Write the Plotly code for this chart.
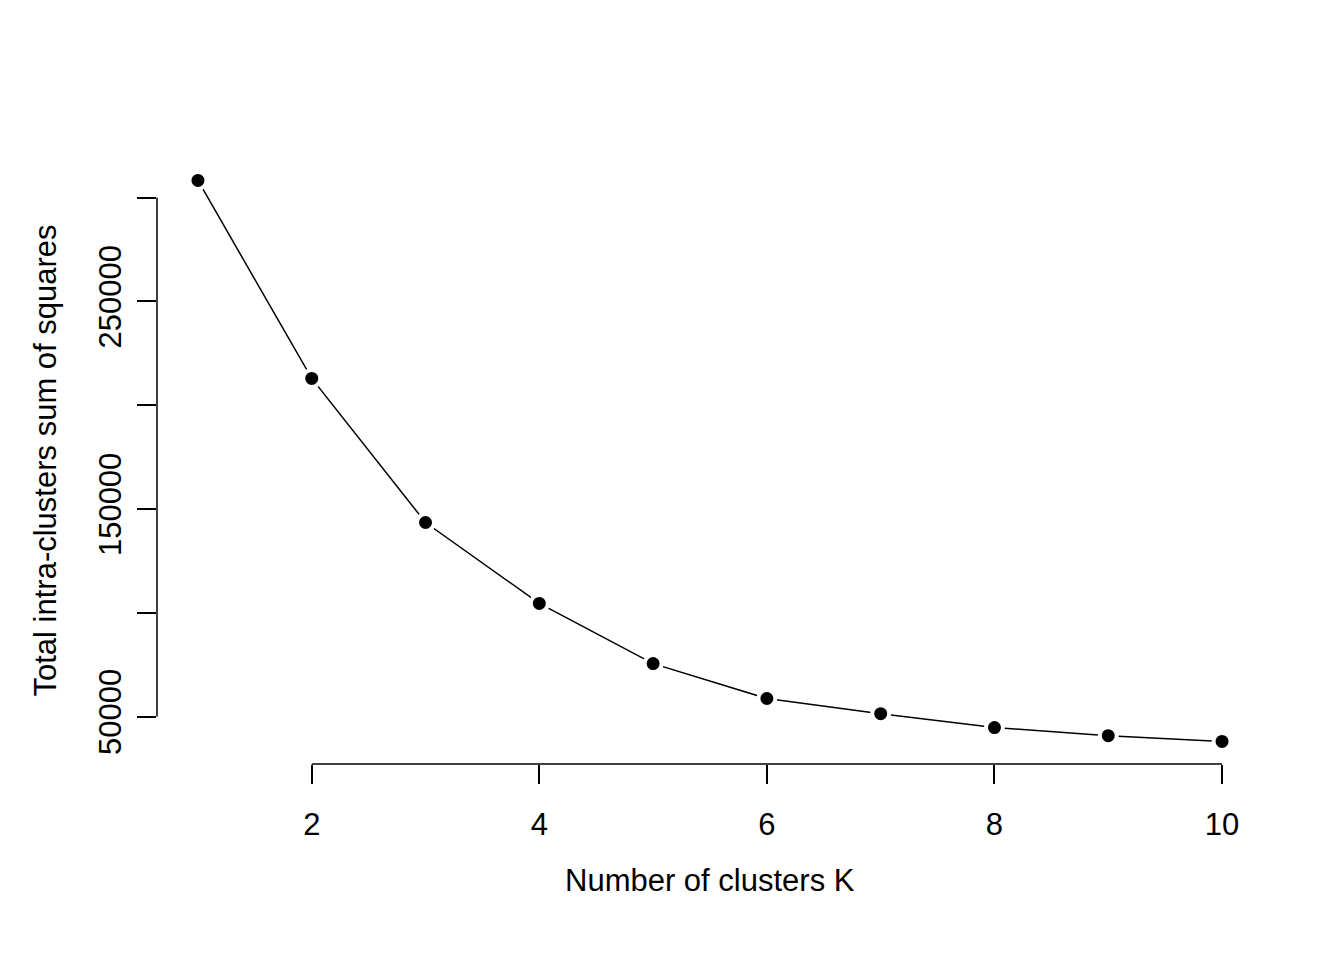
import plotly.graph_objects as go

k = [1, 2, 3, 4, 5, 6, 7, 8, 9, 10]
wss = [308300, 212900, 143500, 104500, 75500, 58700, 51400, 44700, 40800, 38000]
ytick_vals = [50000, 100000, 150000, 200000, 250000, 300000]
ytick_text = ["50000", "", "150000", "", "250000", ""]
xtick_vals = [2, 4, 6, 8, 10]

font = dict(family="Liberation Sans, Arial", size=31, color="black")
fig = go.Figure(go.Scatter(
    x=k, y=wss, mode="lines+markers",
    line=dict(color="black", width=1.5),
    marker=dict(size=17, color="black", line=dict(color="white", width=4)),
))
fig.update_layout(
    width=1344, height=960, plot_bgcolor="white", paper_bgcolor="white",
    margin=dict(l=149, r=89, t=150, b=204), showlegend=False, font=font,
    xaxis=dict(range=[0.64, 10.36], tickvals=xtick_vals, ticks="outside", ticklen=19,
               tickcolor="black", tickwidth=1.5, showgrid=False, zeroline=False,
               showline=False, ticklabelstandoff=14, tickfont=font),
    yaxis=dict(range=[27136, 319114], tickvals=ytick_vals, ticktext=ytick_text,
               ticks="outside", ticklen=19, tickcolor="black", tickwidth=1.5,
               tickangle=-90, showgrid=False, zeroline=False, showline=False,
               ticklabelstandoff=4, tickfont=font),
    shapes=[
        dict(type="line", xref="x", yref="paper", x0=xtick_vals[0], x1=xtick_vals[-1],
             y0=0, y1=0, line=dict(color="black", width=1.5)),
        dict(type="line", xref="paper", yref="y", x0=0, x1=0, y0=ytick_vals[0],
             y1=ytick_vals[-1], line=dict(color="black", width=1.5)),
    ],
    annotations=[
        dict(text="Number of clusters K", xref="paper", yref="paper", x=0.5, y=0,
             yshift=-136, showarrow=False, font=font),
        dict(text="Total intra-clusters sum of squares", xref="paper", yref="paper",
             x=0, y=0.5, xshift=-132, textangle=-90, showarrow=False, font=font),
    ],
)
fig.write_html("out.html")
